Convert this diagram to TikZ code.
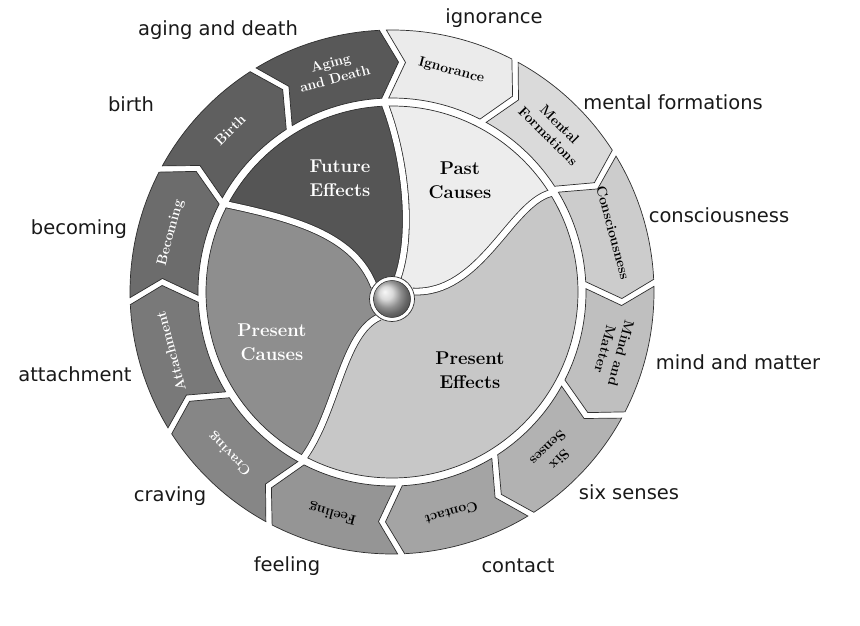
\documentclass[tikz,border=0pt]{standalone}
\usepackage{fontspec}
\usetikzlibrary{calc}
\newfontfamily\outfont{DejaVu Sans}
\definecolor{edge}{HTML}{2E2E2E}
\definecolor{cIgn}{HTML}{EBEBEB}
\definecolor{cMF}{HTML}{DADADA}
\definecolor{cCon}{HTML}{CCCCCC}
\definecolor{cMind}{HTML}{BFBFBF}
\definecolor{cSix}{HTML}{B2B2B2}
\definecolor{cCont}{HTML}{A4A4A4}
\definecolor{cFeel}{HTML}{959595}
\definecolor{cCrav}{HTML}{868686}
\definecolor{cAtt}{HTML}{797979}
\definecolor{cBec}{HTML}{6C6C6C}
\definecolor{cBirth}{HTML}{5F5F5F}
\definecolor{cAge}{HTML}{585858}
\definecolor{cPast}{HTML}{EDEDED}
\definecolor{cPE}{HTML}{C7C7C7}
\definecolor{cPC}{HTML}{8E8E8E}
\definecolor{cFE}{HTML}{555555}
\begin{document}
\begin{tikzpicture}[x=1pt,y=1pt,
  seg/.style={draw=edge, line width=0.7pt},
  segtext/.style={font=\fontsize{14}{16.5}\selectfont\bfseries, align=center, inner sep=0pt},
  midtext/.style={font=\fontsize{18.5}{24}\selectfont\bfseries, align=center, inner sep=0pt},
  outtext/.style={font=\outfont\fontsize{19.5}{22}\selectfont, inner sep=0pt, text=black!90}]
\useasboundingbox (0,0) rectangle (860,625);
\fill[white] (0,0) rectangle (860,625);
\coordinate (C) at (392,333);
\coordinate (S) at (392,326);
% ring segments
\foreach \k/\col in {0/cIgn,1/cMF,2/cCon,3/cMind,4/cSix,5/cCont,6/cFeel,7/cCrav,8/cAtt,9/cBec,10/cBirth,11/cAge}{
  \pgfmathsetmacro\a{92-30*\k}
  \pgfmathsetmacro\b{\a-30}
  \pgfmathsetmacro\aO{\a-0.77}
  \pgfmathsetmacro\bO{\b+0.77}
  \pgfmathsetmacro\aI{\a-1.03}
  \pgfmathsetmacro\bI{\b+1.03}
  \pgfmathsetmacro\aM{\a-4.5-0.87}
  \pgfmathsetmacro\bM{\b-4.5+0.87}
  \filldraw[seg, fill=\col] ([shift={(C)}]\aO:262pt) arc[start angle=\aO, end angle=\bO, radius=262pt]
    -- ([shift={(C)}]\bM:230pt) -- ([shift={(C)}]\bI:194pt)
    arc[start angle=\bI, end angle=\aI, radius=194pt]
    -- ([shift={(C)}]\aM:230pt) -- cycle;
}
% divider curve coordinates
\coordinate (p1s) at (397.7,347.3); \coordinate (p1a) at (414,395); \coordinate (p1b) at (404,470);
\coordinate (e1) at ([shift={(C)}]92:186pt);
\coordinate (p2s) at (412.7,333.5); \coordinate (p2a) at (480,330); \coordinate (p2b) at (510,420);
\coordinate (e2) at ([shift={(C)}]32:186pt);
\coordinate (p3s) at (379.4,308); \coordinate (p3a) at (343,292); \coordinate (p3b) at (337,215);
\coordinate (e3) at ([shift={(C)}]-118:186pt);
\coordinate (p4s) at (374,338.6); \coordinate (p4a) at (355,388); \coordinate (p4b) at (300,405);
\coordinate (e4) at ([shift={(C)}]152:186pt);
% regions
\fill[cPast] (S) -- (p1s) .. controls (p1a) and (p1b) .. (e1) arc[start angle=92, end angle=32, radius=186pt]
  .. controls (p2b) and (p2a) .. (p2s) -- cycle;
\fill[cPE] (S) -- (p2s) .. controls (p2a) and (p2b) .. (e2) arc[start angle=32, end angle=-118, radius=186pt]
  .. controls (p3b) and (p3a) .. (p3s) -- cycle;
\fill[cPC] (S) -- (p3s) .. controls (p3a) and (p3b) .. (e3) arc[start angle=-118, end angle=-208, radius=186pt]
  .. controls (p4b) and (p4a) .. (p4s) -- cycle;
\fill[cFE] (S) -- (p4s) .. controls (p4a) and (p4b) .. (e4) arc[start angle=152, end angle=92, radius=186pt]
  .. controls (p1b) and (p1a) .. (p1s) -- cycle;
% dividers
\begin{scope}
  \clip (C) circle[radius=186pt];
  \foreach \i in {1,2,3,4}{
    \draw[edge, line width=7.6pt] (p\i s) .. controls (p\i a) and (p\i b) .. (e\i) -- ($(e\i)!-8pt!(p\i b)$);
  }
\end{scope}
\draw[edge, line width=0.7pt] (C) circle[radius=186pt];
\begin{scope}
  \clip (C) circle[radius=191pt];
  \foreach \i in {1,2,3,4}{
    \draw[white, line width=6pt] (p\i s) .. controls (p\i a) and (p\i b) .. (e\i) -- ($(e\i)!-8pt!(p\i b)$);
  }
\end{scope}
% sphere
\node[circle, draw=edge, line width=0.7pt, fill=white, minimum size=45pt, inner sep=0pt] (sph) at (S) {};
\node[circle, draw=edge, line width=0.5pt, ball color=gray!40, minimum size=37pt, inner sep=0pt] (ball) at (S) {};
% inner labels
\node[midtext, text=white] (fe) at (340,447) {Future\\Effects};
\node[midtext, text=black] (pc) at (460,445) {Past\\Causes};
\node[midtext, text=white] (prc) at (272,283) {Present\\Causes};
\node[midtext, text=black] (pre) at (470,255) {Present\\Effects};
% segment labels
\foreach \ang/\txt/\tc/\nm in {75/Ignorance/black/s0, 45/Mental\\Formations/black/s1, 15/Consciousness/black/s2,
  -15/Mind and\\Matter/black/s3, -45/Six\\Senses/black/s4, -75/Contact/black/s5, -105/Feeling/black/s6,
  -135/Craving/white/s7, -165/Attachment/white/s8, 165/Becoming/white/s9, 135/Birth/white/s10, 105/Aging\\and Death/white/s11}{
  \node[segtext, text=\tc, rotate=\ang-90] (\nm) at ([shift={(C)}]\ang:229pt) {\txt};
}
% outer labels
\node[outtext] (o1) at (218,595) {aging and death};
\node[outtext] (o2) at (494,607) {ignorance};
\node[outtext] (o3) at (673,523) {mental formations};
\node[outtext] (o4) at (131,521) {birth};
\node[outtext] (o5) at (719,410) {consciousness};
\node[outtext] (o6) at (79,396) {becoming};
\node[outtext] (o7) at (738,263) {mind and matter};
\node[outtext] (o8) at (75,251) {attachment};
\node[outtext] (o9) at (629,133) {six senses};
\node[outtext] (o10) at (170,129) {craving};
\node[outtext] (o11) at (518,59) {contact};
\node[outtext] (o12) at (287,59) {feeling};
\end{tikzpicture}
\end{document}
